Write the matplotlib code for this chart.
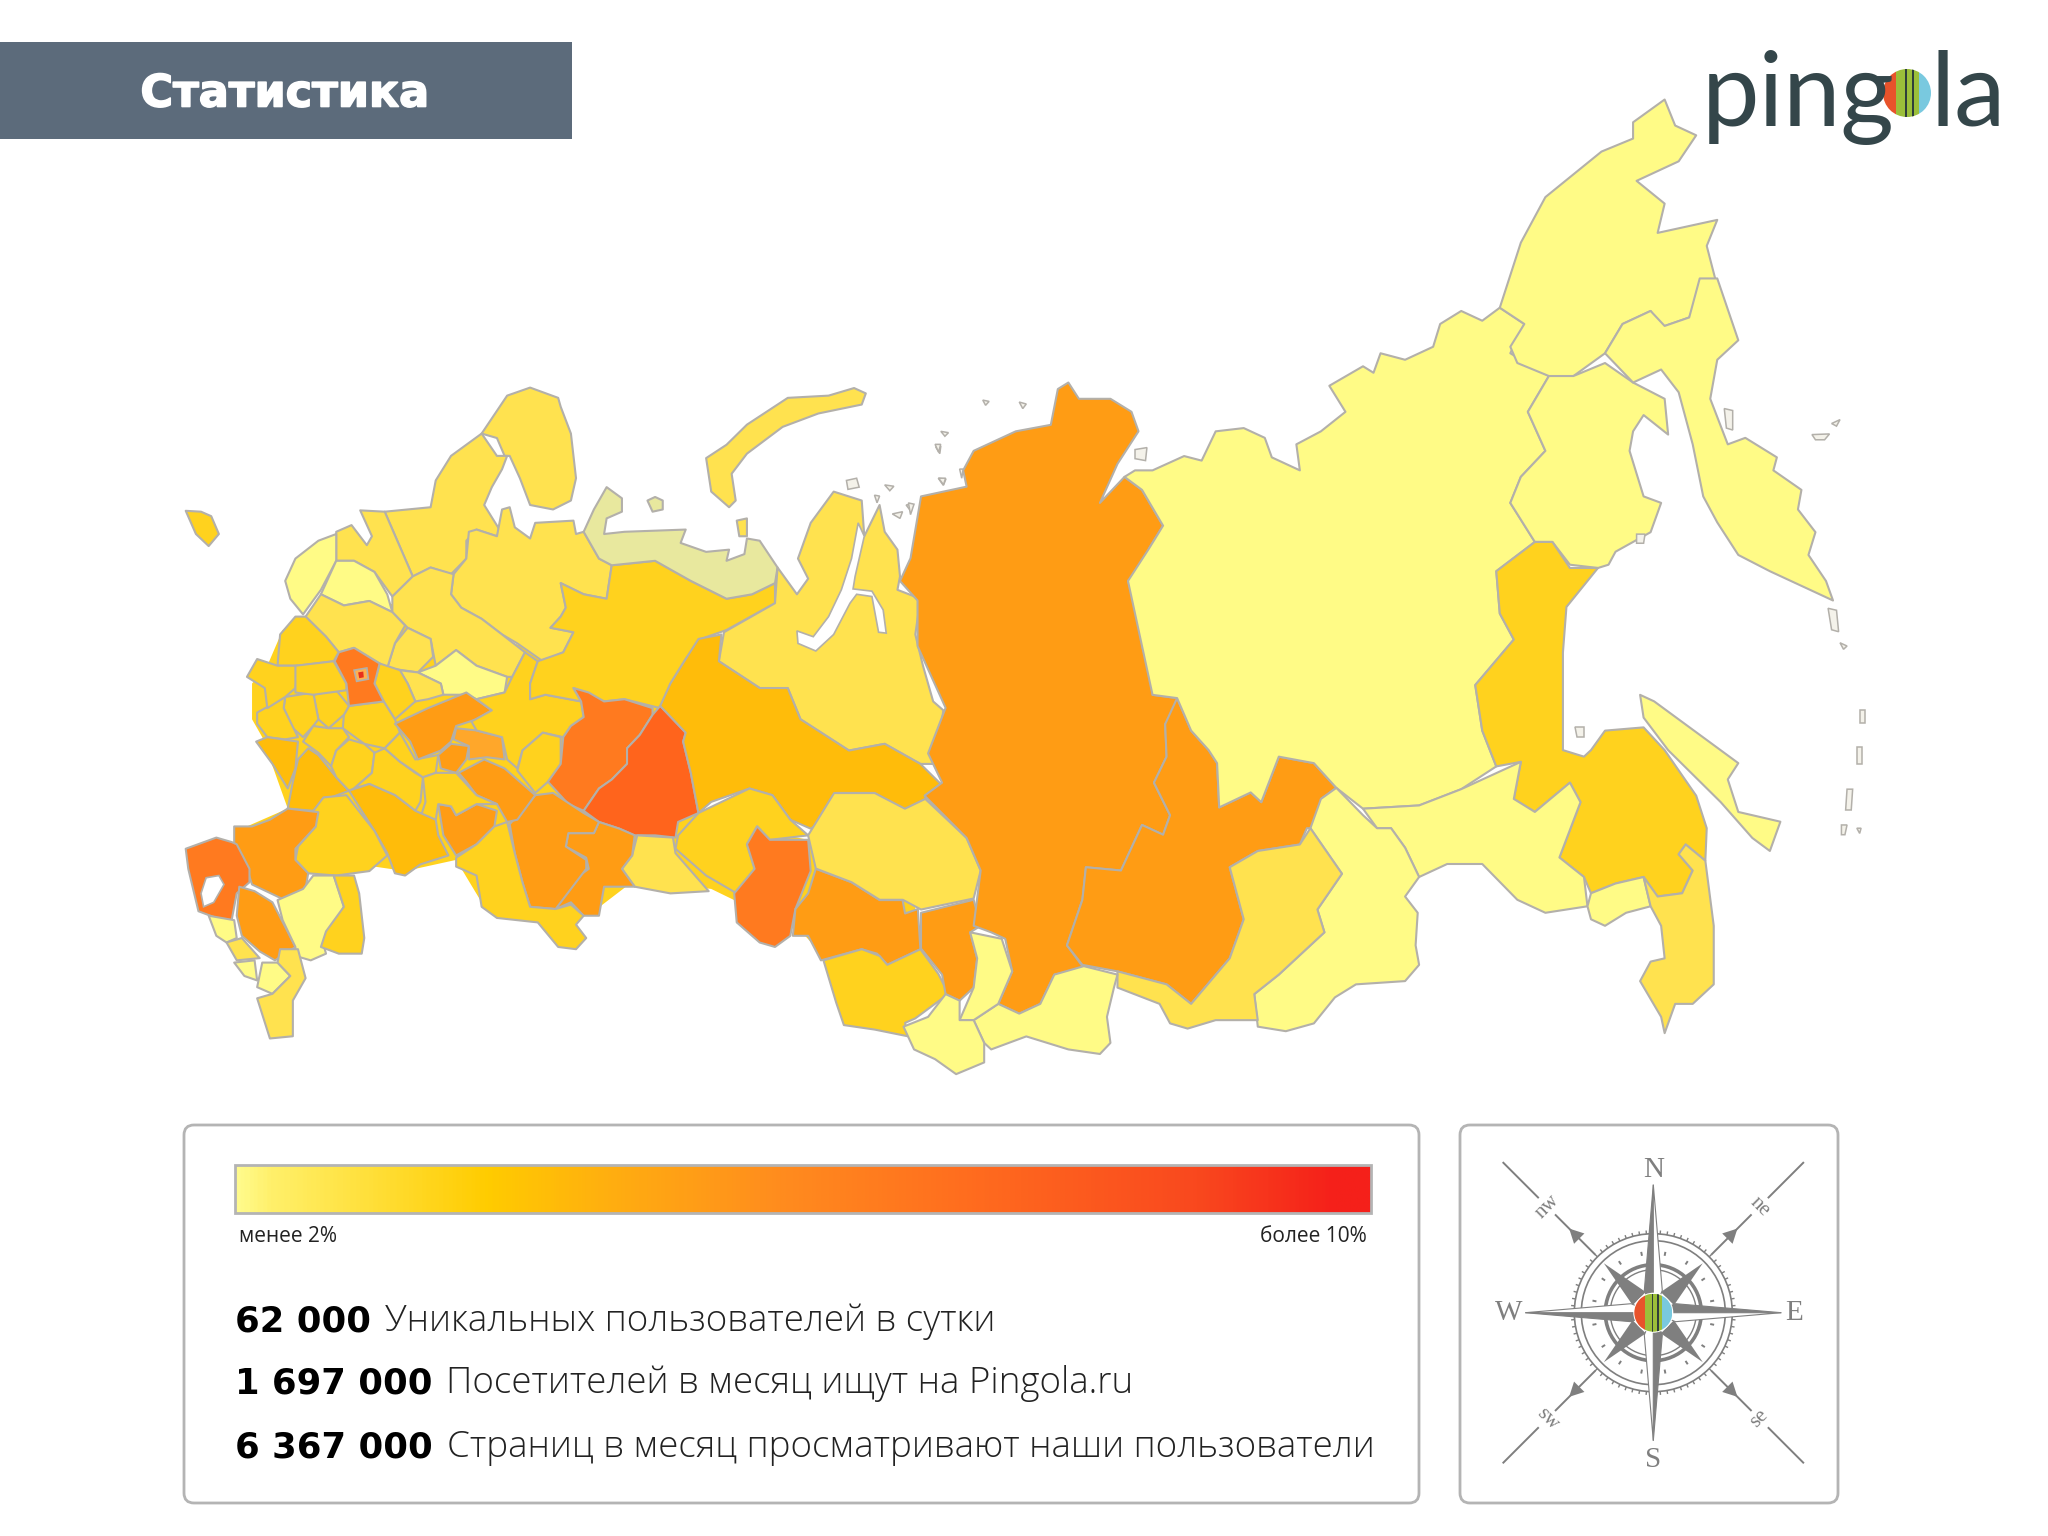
import numpy as np
import matplotlib
matplotlib.use("Agg")
import matplotlib.pyplot as plt
import matplotlib.patheffects as pe
from matplotlib.patches import Polygon, FancyBboxPatch, Circle, Rectangle
from matplotlib.colors import LinearSegmentedColormap

# ---- share levels (colour classes of the regions)
LEVELS = {"a": "#FFFB86", "b": "#FFE24F", "c": "#FFD21E", "d": "#FFBC0A",
          "e": "#FF9C14", "f": "#FF7A1F", "g": "#FF641C", "h": "#E8E89E", "i": "#FFA72A"}

WEST = {
 "Kaliningrad": ("c", [(70,293),(100,295),(120,305),(135,345),(115,372),(90,345)]),
 "Murmansk": ("b", [(650,120),(700,35),(745,17),(800,40),(805,60),(825,120),(835,220),(825,270),(790,290),(745,280),(725,220),(705,170),(695,170),(680,130)]),
 "Karelia": ("b", [(460,295),(550,285),(560,225),(590,170),(650,120),(680,170),(700,170),(690,200),(670,240),(655,280),(685,335),(680,350),(640,335),(620,360),(620,400),(590,435),(550,420),(515,440)]),
 "Leningrad": ("b", [(412,292),(460,295),(515,440),(475,485),(440,430),(400,405),(365,405),(365,340),(395,325),(425,370),(435,350)]),
 "Pskov": ("a", [(365,345),(365,405),(335,470),(300,525),(275,490),(265,450),(285,400),(330,360)]),
 "Novgorod": ("a", [(365,405),(400,405),(440,430),(465,480),(475,520),(430,495),(380,505),(335,480)]),
 "Arkhangelsk": ("b", [(625,340),(640,335),(680,350),(690,290),(705,285),(715,330),(745,355),(755,320),(830,315),(835,345),(850,340),(880,400),(905,415),(895,490),(850,480),(805,455),(815,510),(805,530),(785,555),(830,565),(810,610),(770,630),(745,610),(720,590),(690,570),(650,535),(610,510),(590,480),(595,435),(620,400)]),
 "Vologda": ("b", [(475,485),(515,440),(550,420),(595,435),(590,480),(610,510),(650,535),(690,570),(735,610),(710,665),(700,665),(640,640),(600,605),(560,640),(550,580),(505,555),(475,520)]),
 "Kostroma": ("a", [(525,655),(560,640),(600,605),(640,640),(700,665),(695,700),(640,715),(620,705),(575,705),(570,680)]),
 "Yaroslavl": ("b", [(465,645),(480,590),(505,555),(550,580),(555,620),(525,655)]),
 "Tver": ("b", [(305,530),(335,480),(380,505),(430,495),(475,520),(500,550),(480,590),(465,645),(450,635),(400,600),(370,610),(345,575)]),
 "Smolensk N": ("c", [(250,640),(255,570),(285,530),(305,530),(345,575),(370,610),(360,630),(290,640)]),
 "Ivanovo": ("b", [(488,650),(525,655),(570,680),(575,705),(545,715),(520,720),(505,680)]),
 "Vladimir": ("c", [(450,635),(490,650),(505,680),(520,720),(480,760),(458,720),(440,680)]),
 "Ryazan": ("c", [(390,730),(458,720),(480,760),(490,790),(460,825),(420,815),(378,780),(380,750)]),
 "Tula": ("c", [(320,705),(365,695),(390,730),(380,750),(350,780),(330,760)]),
 "Kaluga": ("c", [(265,710),(320,700),(330,760),(320,775),(300,800),(280,780),(262,735)]),
 "Bryansk": ("c", [(210,745),(265,710),(262,735),(290,800),(265,805),(230,800),(210,770)]),
 "Smolensk": ("c", [(190,665),(210,625),(250,640),(290,640),(285,690),(265,710),(230,735),(225,690)]),
 "Kaluga N": ("c", [(285,640),(360,630),(385,680),(385,695),(320,705),(285,700)]),
 "Moscow": ("f", [(400,600),(450,635),(440,680),(458,720),(390,730),(385,680),(362,630),(370,610)]),
 "Oryol": ("c", [(320,775),(350,780),(378,780),(390,800),(365,830),(355,865),(330,835),(300,810)]),
 "Kursk": ("d", [(208,810),(230,800),(290,810),(285,870),(270,915),(240,860)]),
 "Belgorod": ("d", [(290,850),(310,825),(330,840),(365,890),(390,920),(355,935),(320,965),(270,960),(280,900)]),
 "Lipetsk": ("c", [(365,830),(390,805),(420,815),(440,835),(435,880),(400,915),(390,920),(365,890),(355,865)]),
 "Tambov": ("c", [(440,835),(460,825),(490,855),(520,880),(535,890),(530,945),(520,965),(480,930),(430,905),(400,915),(435,880)]),
 "Mordovia": ("c", [(460,825),(490,790),(520,850),(565,840),(560,880),(535,890),(490,855)]),
 "Nizhny": ("e", [(480,770),(545,735),(620,700),(670,740),(640,760),(600,775),(590,810),(570,830),(525,850),(510,810)]),
 "Chuvashia": ("e", [(565,840),(590,815),(625,820),(620,850),(600,880),(570,870)]),
 "Mari": ("i", [(625,820),(595,805),(600,780),(640,785),(690,800),(695,850),(660,845),(625,850)]),
 "Kirov": ("c", [(630,765),(670,740),(640,715),(695,700),(710,665),(735,610),(760,630),(745,680),(745,715),(775,705),(845,720),(850,755),(825,775),(810,800),(770,790),(730,830),(720,870),(700,850),(690,800),(640,785)]),
 "Udmurtia": ("c", [(730,830),(770,790),(805,800),(805,860),(780,900),(755,925),(720,875)]),
 "Komi": ("c", [(905,415),(990,405),(1060,450),(1130,490),(1180,480),(1225,455),(1225,500),(1130,560),(1080,580),(1050,625),(1020,680),(1000,735),(930,715),(890,720),(860,705),(830,690),(845,720),(775,705),(745,715),(745,680),(760,630),(810,610),(830,565),(785,555),(805,530),(815,510),(805,455),(850,480),(895,490)]),
 "Nenets": ("h", [(850,340),(870,290),(895,240),(925,265),(925,295),(895,310),(890,345),(930,340),(1050,335),(1040,365),(1090,385),(1135,380),(1130,405),(1165,390),(1170,355),(1195,360),(1230,420),(1225,455),(1180,480),(1130,490),(1060,450),(990,405),(905,415),(880,400)]),
 "Kolguev": ("h", [(975,270),(990,262),(1005,270),(1005,290),(985,295)]),
 "Novaya Zemlya": ("b", [(1090,175),(1130,145),(1170,100),(1250,40),(1330,35),(1380,18),(1403,30),(1395,55),(1310,75),(1240,105),(1170,165),(1140,210),(1148,270),(1135,285),(1100,250)]),
 "Vaygach": ("b", [(1150,315),(1170,310),(1170,350),(1155,350)]),
 "Yamal": ("b", [(1115,630),(1125,565),(1225,500),(1230,420),(1268,480),(1290,445),(1270,400),(1295,320),(1340,250),(1395,270),(1400,350),(1430,280),(1440,340),(1465,380),(1470,440),(1465,470),(1510,490),(1500,570),(1515,640),(1535,720),(1555,740),(1540,860),(1510,860),(1440,815),(1370,830),(1275,760),(1250,690),(1195,690)]),
 "Perm": ("f", [(830,690),(860,700),(890,720),(930,715),(985,735),(985,750),(960,795),(935,825),(935,860),(905,895),(880,915),(850,965),(820,950),(780,900),(805,860),(810,800),(825,775),(850,755),(845,720)]),
 "Sverdlovsk": ("g", [(1000,730),(1050,790),(1045,810),(1060,880),(1075,970),(1035,990),(1030,1025),(990,1020),(950,1020),(920,1005),(880,990),(850,965),(880,915),(905,895),(935,860),(935,825),(960,795),(985,750)]),
 "Khanty": ("d", [(1075,580),(1120,570),(1115,630),(1195,690),(1250,690),(1275,760),(1370,830),(1440,815),(1510,860),(1550,905),(1520,930),(1520,980),(1480,965),(1420,925),(1345,925),(1335,975),(1295,1005),(1255,985),(1220,930),(1175,915),(1100,945),(1075,970),(1060,880),(1045,810),(1050,790),(1000,730),(1020,680),(1050,625)]),
 "Kurgan": ("c", [(1035,1020),(1075,970),(1175,915),(1220,930),(1255,985),(1290,1020),(1215,1030),(1190,1000),(1170,1040),(1185,1095),(1150,1150),(1090,1110),(1030,1050)]),
 "Chelyabinsk": ("b", [(955,1020),(1025,1025),(1030,1060),(1095,1145),(1020,1150),(950,1135),(925,1095),(945,1065)]),
 "Omsk": ("f", [(1190,1000),(1215,1030),(1290,1030),(1295,1100),(1265,1185),(1255,1245),(1225,1270),(1195,1260),(1150,1215),(1145,1150),(1185,1095),(1170,1040)]),
 "Novosibirsk": ("e", [(1305,1095),(1375,1125),(1430,1165),(1475,1165),(1480,1195),(1505,1185),(1510,1275),(1445,1310),(1425,1285),(1395,1275),(1315,1300),(1290,1245),(1260,1245),(1265,1185),(1290,1150)]),
 "Altai krai": ("c", [(1320,1300),(1395,1275),(1430,1290),(1445,1310),(1510,1275),(1545,1330),(1565,1375),(1500,1430),(1480,1440),(1485,1470),(1420,1455),(1360,1445),(1345,1395)]),
 "Bashkortostan": ("e", [(880,990),(920,1005),(950,1020),(945,1065),(925,1095),(950,1135),(890,1135),(880,1200),(850,1200),(825,1170),(795,1185),(830,1120),(860,1095),(855,1070),(815,1045),(820,1015),(870,1015)]),
 "Samara": ("e", [(705,995),(755,930),(790,925),(850,970),(880,990),(870,1015),(820,1015),(815,1045),(855,1075),(855,1095),(795,1185),(745,1180),(730,1125),(715,1060)]),
 "Ulyanovsk": ("e", [(605,880),(655,850),(695,870),(755,930),(720,985),(700,990),(680,950),(640,930),(620,900)]),
 "Saratov": ("e", [(565,950),(590,955),(600,975),(640,950),(680,965),(675,1000),(640,1040),(600,1065),(575,1020)]),
 "Penza": ("c", [(535,890),(560,880),(600,880),(640,930),(680,950),(640,950),(600,975),(590,955),(565,950),(560,985),(530,980),(540,945)]),
 "Orenburg": ("c", [(600,1070),(640,1040),(675,1000),(700,990),(715,1060),(730,1125),(745,1180),(795,1185),(825,1175),(850,1200),(835,1220),(855,1250),(835,1275),(800,1270),(760,1215),(680,1205),(650,1180),(640,1110),(600,1090)]),
 "Voronezh": ("d", [(390,920),(430,905),(480,930),(520,965),(560,985),(565,1020),(585,1065),(530,1085),(500,1110),(480,1105),(465,1060),(440,1010)]),
 "Volgograd": ("c", [(340,935),(385,930),(440,1010),(465,1065),(430,1100),(365,1110),(310,1105),(285,1075),(290,1045),(325,1000),(320,965)]),
 "Rostov": ("e", [(165,1000),(200,1000),(235,985),(270,960),(330,968),(325,1000),(285,1050),(285,1075),(310,1105),(305,1140),(270,1168),(200,1130),(190,1095),(165,1040)]),
 "Krasnodar": ("f", [(70,1050),(130,1025),(160,1035),(170,1040),(195,1095),(195,1125),(170,1150),(160,1210),(130,1205),(95,1190),(75,1095)]),
 "Stavropol": ("e", [(175,1135),(205,1145),(240,1170),(265,1225),(285,1270),(245,1300),(215,1280),(180,1245),(170,1200)]),
 "Kalmykia": ("a", [(250,1165),(300,1140),(320,1110),(360,1110),(380,1180),(340,1265),(345,1285),(315,1300),(285,1290),(285,1270),(260,1210)]),
 "Astrakhan": ("c", [(360,1110),(400,1110),(410,1150),(420,1250),(415,1285),(370,1285),(335,1270),(345,1235),(380,1180)]),
 "Karachay": ("a", [(115,1200),(165,1210),(170,1250),(150,1260),(130,1245)]),
 "Kabarda": ("b", [(150,1260),(180,1250),(215,1295),(170,1300)]),
 "Ossetia": ("a", [(165,1305),(205,1300),(210,1345),(185,1335)]),
 "Chechnya": ("a", [(220,1305),(250,1305),(275,1335),(240,1375),(210,1360)]),
 "Dagestan": ("b", [(250,1305),(255,1275),(290,1275),(305,1340),(280,1390),(280,1470),(235,1475),(210,1385),(240,1375),(275,1335)]),
}

EAST = {
 "Tomsk": ("b", [(-131,1161),(-94,1096),(-36,1096),(7,1120),(36,1105),(95,1165),(115,1215),(105,1258),(30,1275),(4,1260),(-29,1260),(-69,1233),(-120,1212)]),
 "Kemerovo": ("e", [(30,1280),(105,1260),(115,1300),(100,1310),(110,1350),(105,1395),(85,1415),(65,1405),(60,1375),(30,1335)]),
 "Krasnoyarsk": ("e", [(225,475),(240,465),(255,490),(300,490),(330,510),(340,540),(310,590),(285,650),(320,610),(345,630),(375,685),(355,720),(350,745),(325,770),(345,840),(345,870),(360,920),(360,945),(395,950),(395,965),(378,990),(380,1040),(362,1080),(385,1130),(375,1160),(345,1145),(315,1215),(265,1210),(260,1260),(238,1330),(262,1365),(220,1375),(200,1420),(170,1435),(140,1420),(160,1370),(150,1320),(130,1310),(105,1300),(115,1215),(95,1165),(35,1100),(60,1080),(40,1035),(65,965),(25,870),(25,800),(0,770),(15,735),(30,640),(95,625),(90,600),(105,570),(165,540),(215,530)]),
 "Irkutsk": ("e", [(395,950),(415,1000),(440,1030),(452,1050),(455,1118),(500,1095),(515,1110),(540,1040),(590,1050),(622,1088),(600,1105),(615,1150),(580,1150),(570,1175),(510,1185),(470,1210),(490,1290),(470,1350),(415,1420),(380,1390),(310,1370),(260,1360),(238,1330),(260,1260),(265,1210),(315,1215),(345,1145),(375,1160),(385,1130),(362,1080),(380,1040),(378,990)]),
 "Yakutia": ("a", [(335,600),(360,600),(405,578),(430,585),(450,540),(490,535),(520,550),(530,580),(570,600),(565,560),(600,540),(635,510),(612,470),(660,440),(675,450),(685,420),(720,430),(760,410),(770,375),(800,355),(830,370),(855,350),(890,375),(870,420),(925,455),(895,510),(920,570),(885,610),(870,650),(905,710),(850,755),(855,820),(875,860),(820,930),(830,1000),(850,1055),(800,1090),(740,1115),(660,1120),(622,1088),(590,1050),(540,1040),(515,1110),(500,1095),(455,1118),(452,1050),(440,1030),(415,1000),(395,950),(360,945),(345,870),(325,770),(355,720),(375,685),(345,630),(320,610)]),
 "Chukotka": ("a", [(855,350),(885,250),(920,180),(1000,110),(1045,90),(1045,65),(1090,30),(1105,70),(1135,85),(1110,125),(1050,155),(1090,190),(1080,235),(1165,215),(1150,255),(1162,305),(1135,340),(1125,365),(1085,380),(1070,355),(1030,375),(1005,420),(960,455),(925,455),(880,435),(870,410),(890,375)]),
 "Magadan": ("a", [(925,455),(960,455),(1005,435),(1045,465),(1090,490),(1095,545),(1060,515),(1045,540),(1040,570),(1060,640),(1085,650),(1070,695),(1020,725),(1010,745),(995,750),(955,745),(930,710),(905,710),(870,650),(885,610),(920,570),(895,510)]),
 "Kamchatka": ("a", [(1005,420),(1030,375),(1070,355),(1090,378),(1125,365),(1140,305),(1165,305),(1195,400),(1165,430),(1155,490),(1180,560),(1205,550),(1250,580),(1245,600),(1285,630),(1280,660),(1305,695),(1295,730),(1320,770),(1330,800),(1240,755),(1195,730),(1165,680),(1145,640),(1130,560),(1110,480),(1085,445),(1045,465)]),
 "Khabarovsk": ("c", [(905,710),(930,710),(955,750),(995,750),(950,810),(945,880),(945,1030),(975,1040),(985,1030),(1005,1000),(1060,995),(1090,1030),(1135,1100),(1150,1150),(1148,1200),(1120,1175),(1110,1190),(1130,1215),(1115,1250),(1080,1255),(1060,1225),(1020,1235),(985,1250),(975,1225),(940,1195),(970,1110),(955,1080),(905,1125),(875,1105),(885,1048),(850,1055),(830,1000),(820,930),(875,860),(855,820),(850,755)]),
 "Amur": ("a", [(660,1120),(740,1115),(800,1090),(885,1048),(875,1105),(905,1125),(955,1080),(970,1110),(940,1195),(975,1225),(980,1270),(920,1280),(880,1260),(830,1205),(780,1205),(740,1225),(720,1180),(700,1150),(680,1150)]),
 "Jewish AO": ("a", [(980,1270),(985,1250),(1020,1235),(1060,1225),(1070,1270),(1035,1280),(1005,1300),(985,1290)]),
 "Primorye": ("b", [(1060,1225),(1080,1255),(1115,1250),(1130,1215),(1110,1190),(1120,1175),(1148,1200),(1160,1300),(1160,1390),(1130,1420),(1105,1420),(1090,1465),(1085,1440),(1055,1385),(1070,1355),(1090,1350),(1085,1300),(1070,1270)]),
 "Sakhalin": ("a", [(1055,945),(1075,955),(1195,1050),(1180,1075),(1195,1125),(1255,1140),(1240,1185),(1215,1165),(1170,1110),(1095,1030),(1060,980)]),
 "Zabaikalye": ("a", [(585,1150),(600,1105),(622,1088),(660,1130),(680,1150),(700,1150),(720,1180),(740,1225),(720,1255),(738,1280),(735,1330),(740,1360),(720,1385),(650,1390),(620,1410),(590,1450),(550,1462),(510,1455),(505,1405),(540,1375),(605,1310),(595,1275),(630,1220)]),
 "Buryatia": ("b", [(470,1210),(510,1185),(570,1175),(585,1150),(630,1220),(595,1275),(605,1310),(540,1375),(505,1405),(510,1445),(450,1445),(410,1458),(385,1450),(370,1420),(310,1395),(310,1370),(380,1390),(415,1420),(470,1350),(490,1290)]),
 "Tuva": ("a", [(105,1445),(140,1420),(170,1435),(200,1420),(220,1375),(262,1362),(310,1375),(305,1395),(295,1440),(300,1480),(285,1497),(240,1490),(180,1470),(130,1490),(120,1480)]),
 "Khakassia": ("a", [(100,1310),(145,1320),(160,1370),(140,1420),(105,1445),(85,1445),(105,1395),(110,1350)]),
 "Altai": ("a", [(5,1455),(40,1440),(65,1405),(85,1415),(85,1445),(105,1445),(120,1480),(120,1510),(80,1528),(50,1505),(20,1490)]),
}

# ---- interior of the western cluster, under the regions
INTERIOR = [(260,560),(480,500),(740,600),(1000,730),(1075,980),(1290,1030),(1500,1180),(1500,1290),(1320,1290),(1280,1240),(1100,1140),(950,1120),(870,1190),(760,1170),(650,1170),(600,1075),(500,1100),(440,1090),(300,1090),(290,1150),(210,1120),(170,1040),(170,1010),(270,960),(220,800),(200,760),(200,680),(230,640)]

# ---- water and small features on top of the regions
GULF = [(1388,320),(1375,400),(1355,470),(1330,530),(1300,575),(1268,562),(1270,590),(1305,607),(1340,570),(1372,500),(1385,480),(1415,485),(1428,565),(1443,567),(1437,515),(1415,473),(1378,468),(1382,440),(1400,350)]
AZOV_LAKE = [(110,1115),(135,1110),(145,1130),(125,1170),(105,1180),(100,1150)]
MOSCOW_RING = [(400,650),(425,645),(428,670),(405,675)]
MOSCOW_CITY = [(408,655),(418,653),(419,666),(410,668)]
ISLES_W = [[(1365,225),(1385,220),(1390,240),(1368,245)], [(1440,235),(1458,238),(1450,248)],
           [(1420,258),(1430,260),(1425,275)], [(1482,280),(1495,278),(1492,295)],
           [(1455,300),(1475,295),(1470,310)], [(1540,150),(1550,148),(1548,165)],
           [(1550,115),(1565,118),(1558,126)], [(1545,220),(1560,222),(1555,236)]]
ISLES_E = [[(1175,505),(1187,508),(1187,538),(1178,535)], [(1300,545),(1325,544),(1318,553),(1305,553)],
           [(1328,528),(1340,522),(1335,532)], [(1323,812),(1335,815),(1338,848),(1328,845)],
           [(1340,865),(1350,870),(1345,875)], [(1368,968),(1375,968),(1375,988),(1368,988)],
           [(1364,1025),(1372,1025),(1372,1052),(1364,1052)], [(1350,1090),(1358,1090),(1356,1122),(1348,1122)],
           [(1342,1145),(1350,1145),(1347,1160),(1342,1160)], [(1364,1150),(1370,1150),(1368,1158)],
           [(962,995),(975,995),(975,1010),(965,1010)], [(1050,698),(1062,698),(1060,712),(1050,712)],
           [(50,560),(58,560),(55,572)], [(118,492),(127,494),(122,500)], [(170,495),(180,498),(175,505)],
           [(55,612),(65,612),(62,622)], [(85,598),(90,598),(88,612)], [(12,650),(20,652),(15,668)],
           [(335,568),(352,565),(350,585),(335,582)]]

# ---- colour bar and texts
BAR_STOPS = [0.0, 0.03, 0.22, 0.33, 0.48, 0.66, 0.85, 0.97, 1.0]
BAR_COLOURS = ["#FFFB8C", "#FFF06A", "#FFCC00", "#FFAE10", "#FF8C1E", "#FF6A1E", "#F9481E", "#F5201A", "#F5201A"]
BAR_LOW, BAR_HIGH = "менее 2%", "более 10%"
STATS = [("62 000", "Уникальных пользователей в сутки"),
         ("1 697 000", "Посетителей в месяц ищут на Pingola.ru"),
         ("6 367 000", "Страниц в месяц просматривают наши пользователи")]
TITLE = "Статистика"
COMPASS_MAIN = [("N", 0, 143), ("E", 90, 141), ("S", 180, 147), ("W", 270, 145)]
COMPASS_MINOR = [("ne", 45, -45), ("se", 135, 45), ("sw", 225, -45), ("nw", 315, 45)]
STRIPES = [(0.0, 0.28, "#E8532B"), (0.28, 0.74, "#9BBF3A"), (0.46, 0.50, "#2F3F3A"),
           (0.60, 0.64, "#2F3F3A"), (0.74, 1.0, "#79C9DF")]

EDGE = "#B3B0AA"
GREY = "#7F7F7F"

def west(p):
    return [(150 + x / 1.96, 380 + y / 2.24) for x, y in p]

def east(p):
    return [(900 + x / 1.4255, 80 + y / 1.537) for x, y in p]

plt.rcParams["font.family"] = ["Open Sans", "DejaVu Sans"]
fig = plt.figure(figsize=(20.48, 15.36), dpi=100, facecolor="white")
ax = fig.add_axes([0, 0, 1, 1])
ax.set_xlim(0, 2048)
ax.set_ylim(1536, 0)
ax.axis("off")

def striped_disc(cx, cy, r, z):
    clip = Circle((cx, cy), r, transform=ax.transData)
    for a, b, c in STRIPES:
        s = Rectangle((cx - r + a * 2 * r, cy - r), (b - a) * 2 * r, 2 * r, fc=c, ec="none", zorder=z)
        ax.add_patch(s)
        s.set_clip_path(clip)

# banner
ax.add_patch(Rectangle((0, 42), 572, 97, fc="#5C6B7B", ec="none"))
ax.text(285, 94, TITLE, color="white", fontsize=32, fontweight="bold", ha="center", va="center",
        family=["DejaVu Sans"], path_effects=[pe.withStroke(linewidth=1.2, foreground="white")])

# logo
logo = "#34464A"
ax.text(1702, 88, "ping", color=logo, fontsize=74, ha="left", va="center_baseline", family=["Lato", "Open Sans"])
ax.text(1931, 88, "la", color=logo, fontsize=74, ha="left", va="center_baseline", family=["Lato", "Open Sans"])
striped_disc(1907, 93, 24, 2)

# map
ax.add_patch(Polygon(west(INTERIOR), closed=True, fc=LEVELS["c"], ec="none"))
for level, pts in WEST.values():
    ax.add_patch(Polygon(west(pts), closed=True, fc=LEVELS[level], ec=EDGE, lw=1.5, joinstyle="round"))
for level, pts in EAST.values():
    ax.add_patch(Polygon(east(pts), closed=True, fc=LEVELS[level], ec=EDGE, lw=1.5, joinstyle="round"))
ax.add_patch(Polygon(west(GULF), fc="white", ec=EDGE, lw=1.2))
ax.add_patch(Polygon(west(AZOV_LAKE), fc="white", ec=EDGE, lw=1.2))
ax.add_patch(Polygon(west(MOSCOW_RING), fc="#FFB050", ec=EDGE, lw=1.2))
ax.add_patch(Polygon(west(MOSCOW_CITY), fc="#E8301C", ec="none"))
for p in ISLES_W:
    ax.add_patch(Polygon(west(p), fc="#F4F2EA", ec=EDGE, lw=1.1))
for p in ISLES_E:
    ax.add_patch(Polygon(east(p), fc="#F4F2EA", ec=EDGE, lw=1.1))

# panels
for (x0, y0, x1, y1) in [(184, 1125, 1419, 1503), (1460, 1125, 1838, 1503)]:
    ax.add_patch(FancyBboxPatch((x0 + 10, y0 + 10), x1 - x0 - 20, y1 - y0 - 20,
                                boxstyle="round,pad=10,rounding_size=10", fc="white", ec="#B4B4B4", lw=2))

# colour bar
cmap = LinearSegmentedColormap.from_list("share", list(zip(BAR_STOPS, BAR_COLOURS)))
ax.imshow(np.linspace(0, 1, 600)[None, :], cmap=cmap, extent=(235, 1371, 1213, 1165), aspect="auto", zorder=2)
ax.add_patch(Rectangle((235, 1165), 1136, 48, fc="none", ec="#B4B4B4", lw=2, zorder=3))
ax.set_xlim(0, 2048)
ax.set_ylim(1536, 0)
ax.text(239, 1237, BAR_LOW, fontsize=15, color="#222222", ha="left", va="center")
ax.text(1367, 1237, BAR_HIGH, fontsize=15, color="#222222", ha="right", va="center")

# stat lines
fig.canvas.draw()
rend = fig.canvas.get_renderer()
for (num, label), y in zip(STATS, [1321, 1384, 1448]):
    t = ax.text(235, y, num, fontsize=25.5, fontweight="bold", color="black", ha="left", va="center",
                family=["DejaVu Sans"])
    bb = t.get_window_extent(rend)
    ax.text(bb.x1 + 14, y, label, fontsize=26.5, fontweight="light", color="#222222", ha="left", va="center")

# compass
CX, CY = 1653.3, 1312.7
def polar(r, deg):
    a = np.deg2rad(deg)
    return CX + r * np.sin(a), CY - r * np.cos(a)

def line(p, q, lw=1.4, c=GREY):
    ax.plot([p[0], q[0]], [p[1], q[1]], color=c, lw=lw, solid_capstyle="butt")

for d in np.arange(0, 360, 5):
    line(polar(79, d), polar(82.5, d), 1.0)
for rad, lw in [(79, 1.2), (72, 1.2), (48, 2.6), (43, 1.0)]:
    ax.add_patch(Circle((CX, CY), rad, fc="none", ec=GREY, lw=lw))
for d in np.arange(11.25, 360, 22.5):
    line(polar(58, d), polar(62, d), 1.4)
for d in (45, 135, 225, 315):
    line(polar(82, d), polar(139, d))
    line(polar(162, d), polar(213, d))
    ax.add_patch(Polygon([polar(119, d), polar(105, d - 4), polar(105, d + 4)], fc=GREY, ec="none"))
    ax.add_patch(Polygon([polar(70, d), polar(22, d - 25), polar(22, d + 25)], fc=GREY, ec="none", zorder=3))
for d in (0, 90, 180, 270):
    tip = polar(128, d)
    base = polar(0, d)
    a = polar(24, d - 22); b = polar(24, d + 22)
    ax.add_patch(Polygon([tip, a, base], fc=GREY, ec=GREY, lw=0.8, zorder=4))
    ax.add_patch(Polygon([tip, b, base], fc="white", ec=GREY, lw=0.8, zorder=4))
for name, deg, rad in COMPASS_MAIN:
    x, y = polar(rad, deg)
    ax.text(x, y, name, fontsize=21, color=GREY, ha="center", va="center", family=["Liberation Serif"], zorder=5)
for name, deg, rot in COMPASS_MINOR:
    x, y = polar(150, deg)
    ax.text(x, y, name, fontsize=15, color=GREY, ha="center", va="center", rotation=rot,
            family=["Liberation Serif"], zorder=5)
ax.add_patch(Circle((CX, CY), 20, fc="white", ec="none", zorder=5))
striped_disc(CX, CY, 19, 6)

fig.savefig("out.png", dpi=100, facecolor="white")
